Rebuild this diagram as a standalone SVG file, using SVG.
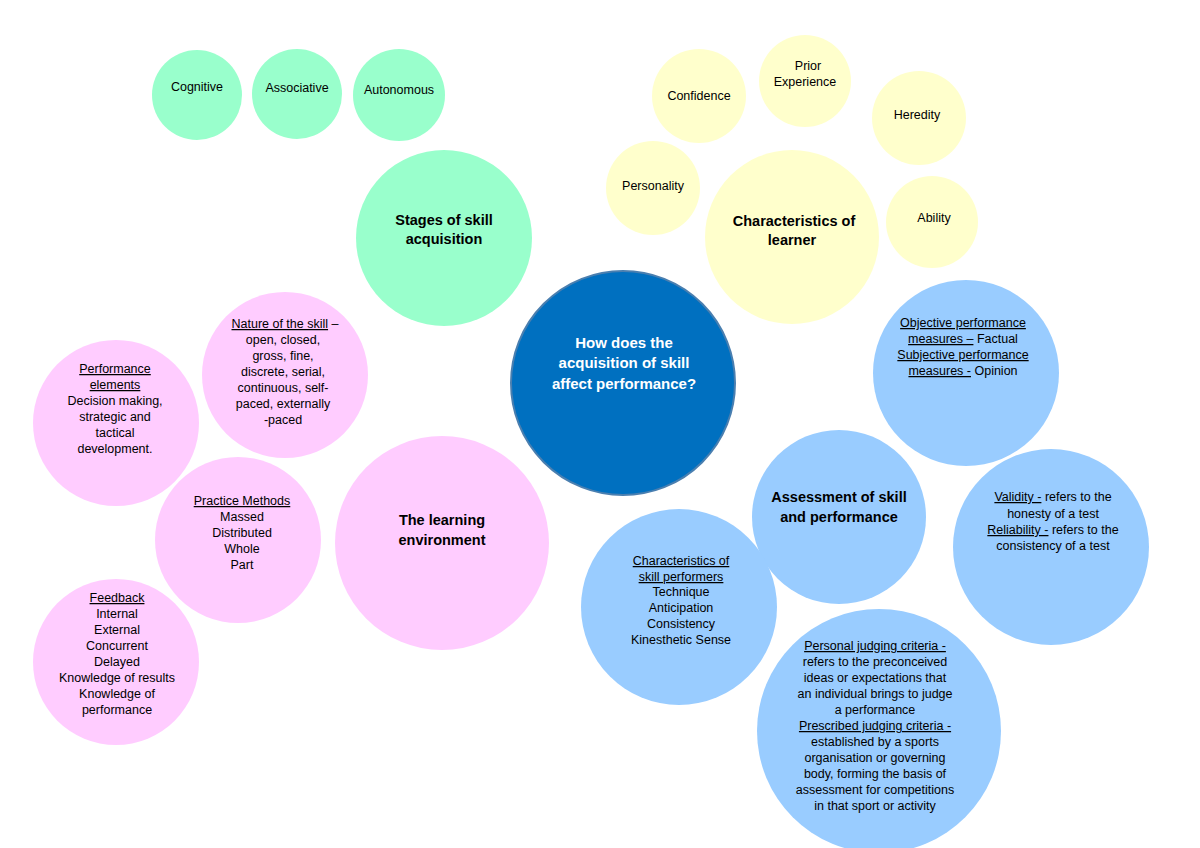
<svg xmlns="http://www.w3.org/2000/svg" width="1200" height="848" viewBox="0 0 1200 848">
<style>
text{font-family:"Liberation Sans",Arial,sans-serif;font-size:12.5px;fill:#000;text-anchor:middle}
.b{font-weight:bold;font-size:14.5px}
.c{font-weight:bold;font-size:15px;fill:#fff}
.u{text-decoration:underline}
.g{fill:#99ffcc}.y{fill:#ffffcc}.bl{fill:#99ccff}.p{fill:#ffccff}
</style>
<rect width="1200" height="848" fill="#fff"/>
<g id="connectors"/>
<g id="cognitive"><circle class="g" cx="197" cy="95" r="45"/><text x="197" y="91">Cognitive</text></g>
<g id="associative"><circle class="g" cx="297" cy="94" r="45"/><text x="297" y="92">Associative</text></g>
<g id="autonomous"><circle class="g" cx="399" cy="95" r="46"/><text x="399" y="94">Autonomous</text></g>
<g id="stages"><circle class="g" cx="444" cy="238" r="88"/><text class="b" x="444" y="225">Stages of skill</text><text class="b" x="444" y="244">acquisition</text></g>
<g id="confidence"><circle class="y" cx="699" cy="96" r="47"/><text x="699" y="100">Confidence</text></g>
<g id="prior"><circle class="y" cx="805" cy="81" r="46"/><text x="808" y="70">Prior</text><text x="805" y="86">Experience</text></g>
<g id="heredity"><circle class="y" cx="919" cy="118" r="47"/><text x="917" y="119">Heredity</text></g>
<g id="personality"><circle class="y" cx="653" cy="188" r="47"/><text x="653" y="190">Personality</text></g>
<g id="ability"><circle class="y" cx="932" cy="222" r="46"/><text x="934" y="222">Ability</text></g>
<g id="learner"><circle class="y" cx="792" cy="237" r="87"/><text class="b" x="794" y="226">Characteristics of</text><text class="b" x="792" y="245">learner</text></g>
<g id="central"><circle cx="623" cy="383" r="112" fill="#0070c0" stroke="#4a7fb0" stroke-width="2"/><text class="c" x="624" y="348">How does the</text><text class="c" x="624" y="368">acquisition of skill</text><text class="c" x="624" y="389">affect performance?</text></g>
<g id="objective"><circle class="bl" cx="966" cy="373" r="93"/><text x="963" y="327"><tspan class="u">Objective performance</tspan></text><text x="963" y="343"><tspan class="u">measures –</tspan> Factual</text><text x="963" y="359"><tspan class="u">Subjective performance</tspan></text><text x="963" y="375"><tspan class="u">measures -</tspan> Opinion</text></g>
<g id="assessment"><circle class="bl" cx="839" cy="517" r="87"/><text class="b" x="839" y="502">Assessment of skill</text><text class="b" x="839" y="522">and performance</text></g>
<g id="validity"><circle class="bl" cx="1051" cy="547" r="98"/><text x="1053" y="501"><tspan class="u">Validity -</tspan> refers to the</text><text x="1053" y="518">honesty of a test</text><text x="1053" y="534"><tspan class="u">Reliability -</tspan> refers to the</text><text x="1053" y="550">consistency of a test</text></g>
<g id="performers"><circle class="bl" cx="679" cy="607" r="98"/><text class="u" x="681" y="565">Characteristics of</text><text class="u" x="681" y="581">skill performers </text><text x="681" y="596">Technique</text><text x="681" y="612">Anticipation</text><text x="681" y="628">Consistency</text><text x="681" y="644">Kinesthetic Sense</text></g>
<g id="judging"><circle class="bl" cx="879" cy="731" r="122"/><text class="u" x="875" y="650">Personal judging criteria -</text><text x="875" y="666">refers to the preconceived</text><text x="875" y="682">ideas or expectations that</text><text x="875" y="698">an individual brings to judge</text><text x="875" y="714">a performance</text><text class="u" x="875" y="730">Prescribed judging criteria -</text><text x="875" y="746">established by a sports</text><text x="875" y="762">organisation or governing</text><text x="875" y="778">body, forming the basis of</text><text x="875" y="794">assessment for competitions</text><text x="875" y="810">in that sport or activity</text></g>
<g id="nature"><circle class="p" cx="285" cy="375" r="83"/><text x="285" y="328"><tspan class="u">Nature of the skill</tspan> –</text><text x="283" y="344">open, closed,</text><text x="283" y="360">gross, fine,</text><text x="283" y="376">discrete, serial,</text><text x="283" y="392">continuous, self-</text><text x="283" y="408">paced, externally</text><text x="283" y="424">-paced</text></g>
<g id="elements"><circle class="p" cx="116" cy="423" r="83"/><text class="u" x="115" y="373">Performance</text><text class="u" x="115" y="389">elements</text><text x="115" y="405">Decision making,</text><text x="115" y="421">strategic and</text><text x="115" y="437">tactical</text><text x="115" y="453">development.</text></g>
<g id="practice"><circle class="p" cx="238" cy="540" r="83"/><text class="u" x="242" y="505">Practice Methods </text><text x="242" y="521">Massed</text><text x="242" y="537">Distributed</text><text x="242" y="553">Whole</text><text x="242" y="569">Part</text></g>
<g id="environment"><circle class="p" cx="442" cy="543" r="107"/><text class="b" x="442" y="525">The learning</text><text class="b" x="442" y="545">environment</text></g>
<g id="feedback"><circle class="p" cx="116" cy="662" r="83"/><text class="u" x="117" y="602">Feedback</text><text x="117" y="618">Internal</text><text x="117" y="634">External</text><text x="117" y="650">Concurrent</text><text x="117" y="666">Delayed</text><text x="117" y="682">Knowledge of results</text><text x="117" y="698">Knowledge of</text><text x="117" y="714">performance</text></g>
</svg>
